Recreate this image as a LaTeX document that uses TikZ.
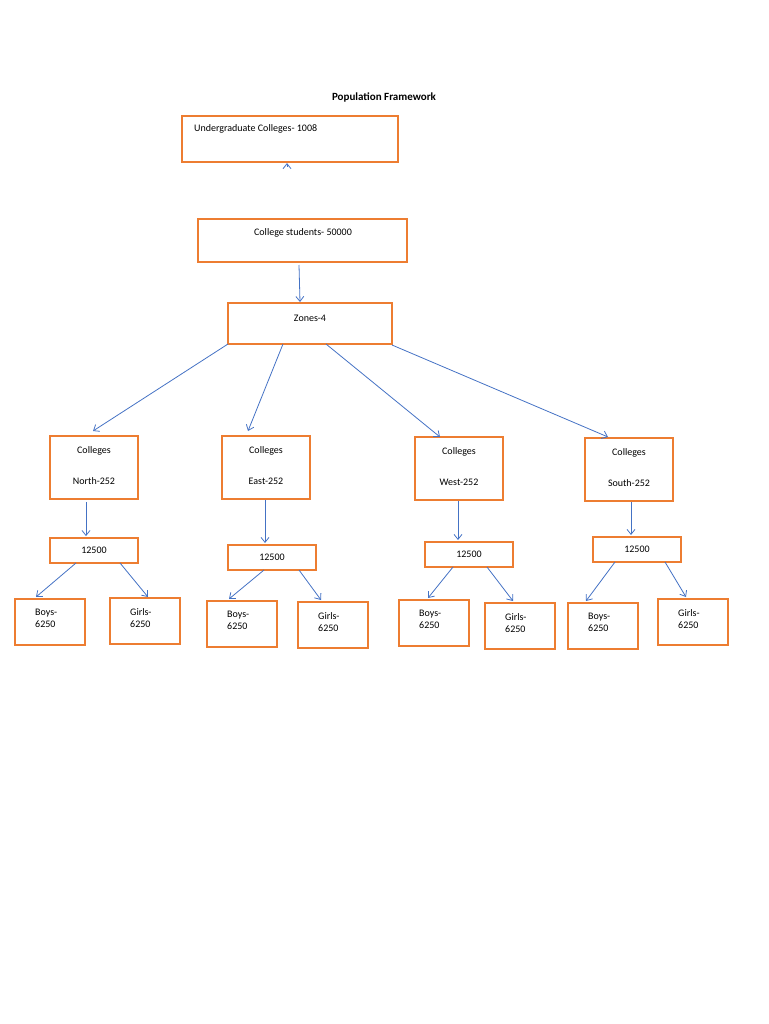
\documentclass[tikz,border=0pt]{standalone}
\usepackage{fontspec}
\setmainfont{Carlito}
\usetikzlibrary{arrows.meta}
\definecolor{bor}{RGB}{237,125,49}
\definecolor{arr}{RGB}{68,114,196}
\begin{document}
\begin{tikzpicture}[x=1pt,y=-1pt,
 bx/.style={draw=bor,line width=2.2pt,inner sep=0pt},
 ar/.style={draw=arr,line width=0.8pt,-{Straight Barb[length=5pt,width=8pt]}},
 tx/.style={font=\fontsize{10}{12}\selectfont,inner sep=0pt}]
\useasboundingbox (0,0) rectangle (768,1024);
\newcommand\bx[5]{\node[bx,minimum width=#4-#2,minimum height=#5-#3] (#1) at ({(#2+#4)/2},{(#3+#5)/2}) {};}
\node[font=\fontsize{11}{13}\selectfont\bfseries] (title) at (384,98) {Population Framework};
\bx{u}{182}{116}{398}{162}
\node[tx,anchor=west] (ut) at (194,129) {Undergraduate Colleges- 1008};
\bx{c}{198}{219}{407}{262}
\node[tx] (ct) at (303,233) {College students- 50000};
\bx{z}{228}{303}{392}{344}
\node[tx] (zt) at (310,318) {Zones-4};
\draw[ar] (287,167) -- (u.south -| 287,218) coordinate (a1);
\draw[ar] (299,265) -- (300,302);
% colleges
\foreach \n/\x/\y/\l in {N/50/436/North-252,E/222/436/East-252,W/415/437/West-252,S/585/438/South-252}{
 \node[bx,minimum width=88,minimum height=63] (col\n) at (\x+44,\y+31.5) {};
 \node[tx] (colt\n) at (\x+44,\y+15) {Colleges};
 \node[tx] (coll\n) at (\x+44,\y+45) {\l};
}
\draw[ar] (228,344) -- (93,431);
\draw[ar] (283,344) -- (248,431);
\draw[ar] (326,344) -- (440,437);
\draw[ar] (392,345) -- (608,437);
% 12500
\foreach \n/\x/\y in {N/50/538,E/228/545,W/425/542,S/593/537}{
 \node[bx,line width=1.8pt,minimum width=88,minimum height=25] (t\n) at (\x+44,\y+12.5) {};
 \node[tx] at (\x+44,\y+12.5) {12500};
}
\draw[ar] (colN.south) ++(-8,2) -- ++(0,34);
\draw[ar] (265,500) -- (265,543);
\draw[ar] (458,501) -- (458,540);
\draw[ar] (631,502) -- (631,535);
% boys girls
\foreach \n/\bxx/\by/\gx/\gy in {N/15/599/110/598,E/207/601/298/602,W/399/600/485/603,S/568/603/658/599}{
 \node[bx,minimum width=70,minimum height=46] (b\n) at (\bxx+35,\by+23) {};
 \node[tx,align=left,anchor=north west] at (\bxx+20,\by+10) {Boys-\\6250};
 \node[bx,minimum width=70,minimum height=46] (g\n) at (\gx+35,\gy+23) {};
 \node[tx,align=left,anchor=north west] at (\gx+20,\gy+10) {Girls-\\6250};
}
\draw[ar] (76,563) -- (36,597);
\draw[ar] (120,563) -- (148,597);
\draw[ar] (264,570) -- (229,599);
\draw[ar] (299,570) -- (321,600);
\draw[ar] (453,567) -- (428,598);
\draw[ar] (487,567) -- (513,601);
\draw[ar] (615,562) -- (586,601);
\draw[ar] (665,562) -- (686,597);
\end{tikzpicture}
\end{document}
